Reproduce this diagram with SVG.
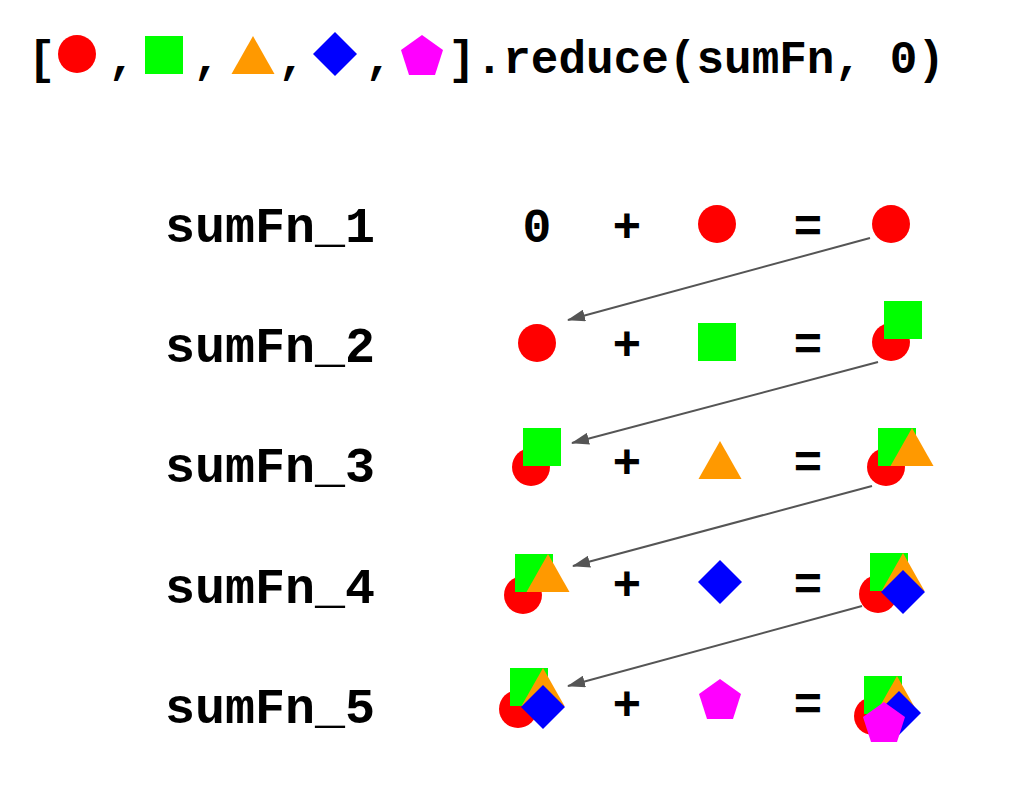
<svg xmlns="http://www.w3.org/2000/svg" xmlns:xlink="http://www.w3.org/1999/xlink" width="1024" height="803" viewBox="0 0 1024 803">
<defs>
<style>
text{font-family:"Liberation Mono","DejaVu Sans Mono",monospace;font-weight:bold;fill:#000}
.t{font-size:46px}.l{font-size:50px}.op{font-size:48px;text-anchor:middle}
.c{fill:#ff0000}.s{fill:#00ff00}.tr{fill:#ff9900}.d{fill:#0000ff}.p{fill:#ff00ff}
.ar{stroke:#555;stroke-width:2;fill:none;marker-end:url(#ah)}
</style>
<marker id="ah" markerWidth="18" markerHeight="12" refX="17" refY="6" orient="auto" markerUnits="userSpaceOnUse" viewBox="0 0 18 12"><path d="M0,0L18,6L0,12Z" fill="#555"/></marker>
<circle id="C" r="19" class="c"/>
<rect id="S" x="-19" y="-19" width="38" height="38" class="s"/>
<polygon id="T" points="0,-19 21.5,19 -21.5,19" class="tr"/>
<polygon id="D" points="0,-22 22,0 0,22 -22,0" class="d"/>
<polygon id="P" points="0,-21 21,-6 13,19 -13,19 -21,-6" class="p"/>
</defs>
<rect width="1024" height="803" fill="#fff"/>
<g id="title">
<text class="t" x="28" y="73">[</text>
<use href="#C" x="77" y="54"/>
<text class="t" x="108" y="73">,</text>
<use href="#S" x="164" y="55"/>
<text class="t" x="193" y="73">,</text>
<use href="#T" x="253" y="55"/>
<text class="t" x="278" y="73">,</text>
<use href="#D" x="335" y="54"/>
<text class="t" x="365" y="73">,</text>
<use href="#P" x="422" y="56"/>
<text class="t" x="448" y="73">].reduce(sumFn, 0)</text>
</g>
<g id="labels">
<text class="l" x="165" y="242">sumFn_1</text>
<text class="l" x="165" y="362">sumFn_2</text>
<text class="l" x="165" y="482">sumFn_3</text>
<text class="l" x="165" y="603">sumFn_4</text>
<text class="l" x="165" y="723">sumFn_5</text>
</g>
<g id="ops">
<text class="op" x="537" y="242">0</text>
<text class="op" x="627" y="242">+</text><text class="op" x="808" y="242">=</text>
<text class="op" x="627" y="360">+</text><text class="op" x="808" y="360">=</text>
<text class="op" x="627" y="478">+</text><text class="op" x="808" y="478">=</text>
<text class="op" x="627" y="600">+</text><text class="op" x="808" y="600">=</text>
<text class="op" x="627" y="720">+</text><text class="op" x="808" y="720">=</text>
</g>
<g id="row1"><use href="#C" x="717" y="224"/><use href="#C" x="891" y="224"/></g>
<g id="row2"><use href="#C" x="537" y="343"/><use href="#S" x="717" y="342"/>
<use href="#C" x="891" y="342"/><use href="#S" x="903" y="320"/></g>
<g id="row3"><use href="#C" x="531" y="467"/><use href="#S" x="542" y="447"/>
<use href="#T" x="720" y="460"/>
<use href="#C" x="886" y="467"/><use href="#S" x="897" y="447"/><use href="#T" x="912" y="447"/></g>
<g id="row4"><use href="#C" x="523" y="595"/><use href="#S" x="534" y="573"/><use href="#T" x="548" y="573"/>
<use href="#D" x="720" y="582"/>
<use href="#C" x="878" y="594"/><use href="#S" x="889" y="572"/><use href="#T" x="903" y="572"/><use href="#D" x="903" y="592"/></g>
<g id="row5"><use href="#C" x="518" y="709"/><use href="#S" x="529" y="687"/><use href="#T" x="543" y="687"/><use href="#D" x="543" y="707"/>
<use href="#P" x="720" y="700"/>
<use href="#C" x="873" y="716"/><use href="#S" x="883" y="695"/><use href="#T" x="897" y="695"/><use href="#D" x="899" y="713"/><use href="#P" x="884" y="723"/></g>
<g id="connectors">
<line class="ar" x1="870" y1="238" x2="568" y2="320"/>
<line class="ar" x1="878" y1="362" x2="572" y2="443"/>
<line class="ar" x1="872" y1="486" x2="573" y2="566"/>
<line class="ar" x1="862" y1="606" x2="568" y2="686"/>
</g>
</svg>
